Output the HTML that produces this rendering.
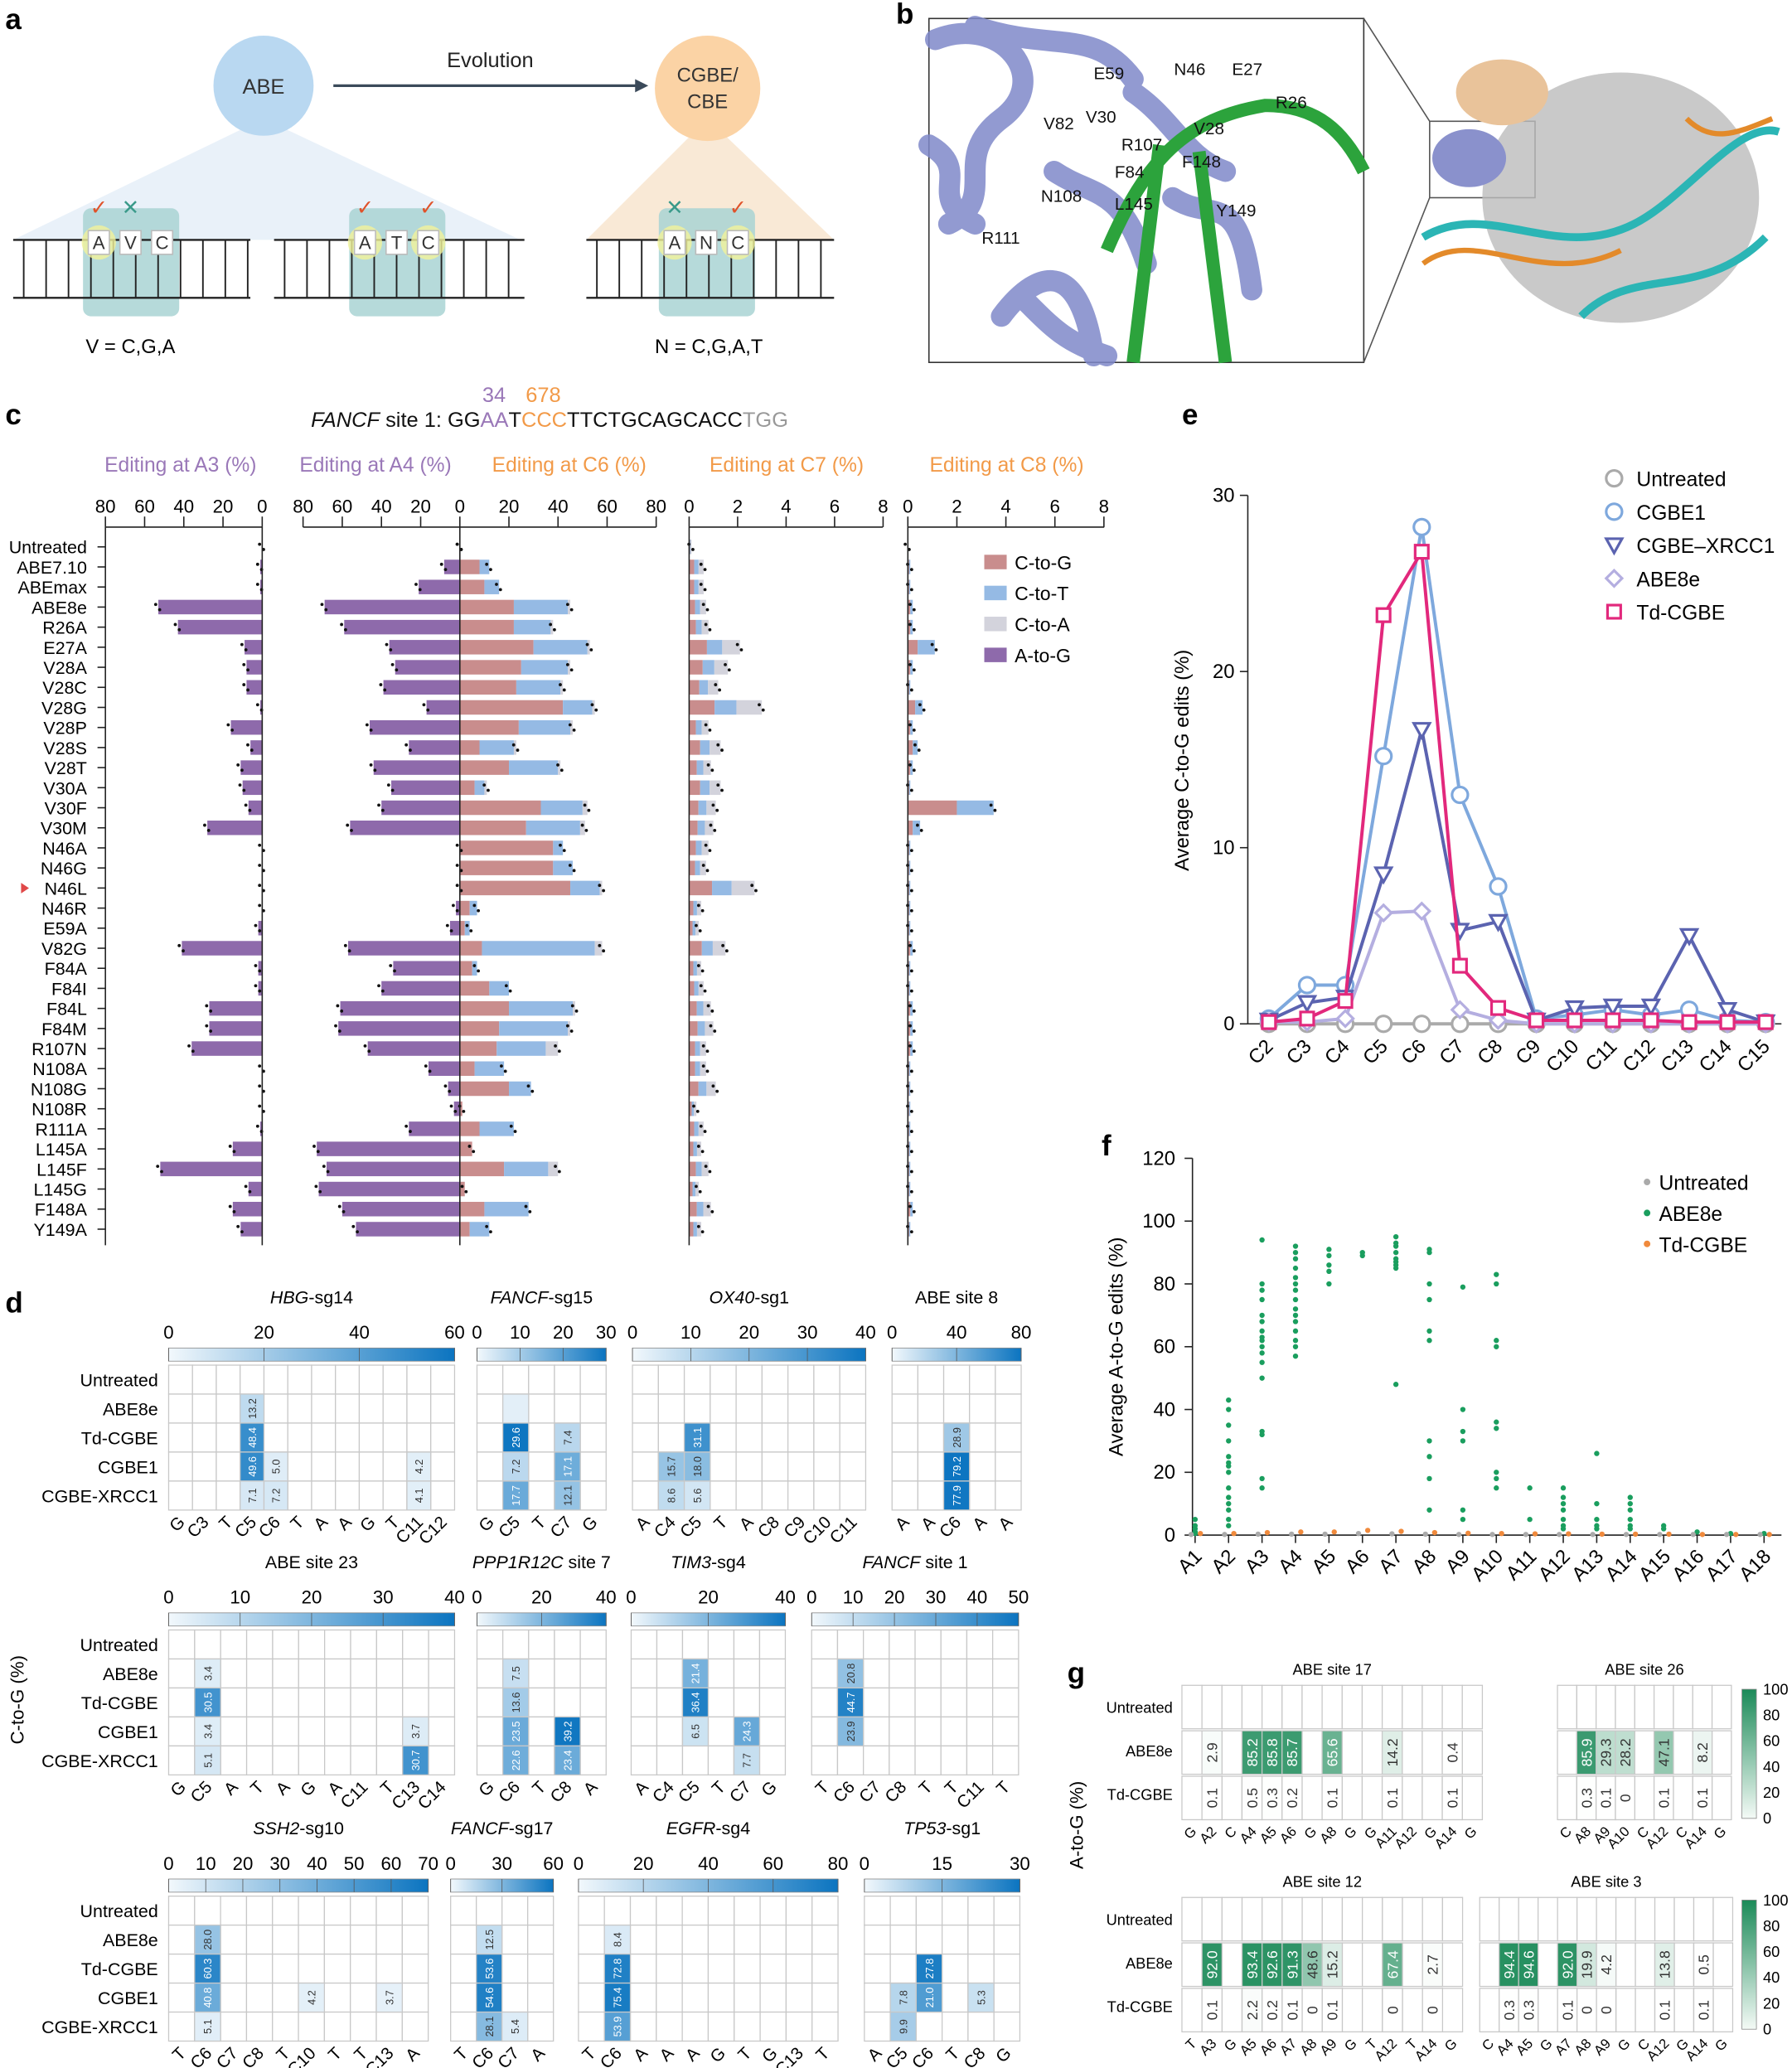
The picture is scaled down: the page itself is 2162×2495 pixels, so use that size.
<!DOCTYPE html>
<html><head><meta charset="utf-8"><style>
html,body{margin:0;padding:0;background:#fff}
svg{display:block;font-family:"Liberation Sans",Arial,sans-serif}
</style></head><body>
<svg id="fig" xmlns="http://www.w3.org/2000/svg" width="2162" height="2495" viewBox="0 0 1360 1569.4">
<rect x="0" y="0" width="1360" height="1569.4" fill="#fff"/>
<!-- Panel a -->
<g>
<text x="4" y="22" font-size="22" font-weight="bold">a</text>
<polygon points="200,90 10,182 395,182" fill="#e3eef8" opacity="0.8"/>
<polygon points="537,90 445,182 633,182" fill="#f8e4cc" opacity="0.8"/>
<circle cx="200" cy="65" r="38" fill="#b9d8f1"/>
<text x="200" y="71" font-size="16" text-anchor="middle" fill="#333">ABE</text>
<circle cx="537" cy="67" r="40" fill="#fbd3a5"/>
<text x="537" y="62" font-size="15" text-anchor="middle" fill="#333">CGBE/</text>
<text x="537" y="82" font-size="15" text-anchor="middle" fill="#333">CBE</text>
<line x1="253" y1="65" x2="484" y2="65" stroke="#3b4a5a" stroke-width="2"/>
<polygon points="492,65 482,60 482,70" fill="#3b4a5a"/>
<text x="372" y="51" font-size="16" text-anchor="middle" fill="#222">Evolution</text>
<g id="dna"></g>
<text x="99" y="268" font-size="15" text-anchor="middle">V = C,G,A</text>
<text x="538" y="268" font-size="15" text-anchor="middle">N = C,G,A,T</text>
</g>
<!-- Panel b -->
<g>
<text x="680" y="18" font-size="22" font-weight="bold">b</text>
<rect x="705" y="14" width="330" height="261" fill="#fff" stroke="#333" stroke-width="1"/>
<path d="M710,30 C760,10 800,60 760,90 C720,120 760,150 720,170 M740,20 C800,40 830,20 860,60 M760,240 C790,200 820,200 830,270 M780,230 C800,250 810,260 840,270 M705,110 C740,130 700,150 740,170 M800,130 C830,150 850,140 870,200 M890,150 C920,170 940,140 950,220 M860,70 C890,90 900,120 930,130" fill="none" stroke="#7f88c9" stroke-width="16" stroke-linecap="round" opacity="0.85"/>
<path d="M840,190 C870,120 900,90 960,80 C1000,80 1020,100 1035,130 M880,110 L860,275 M910,115 L930,275" fill="none" stroke="#2ca33c" stroke-width="10"/>
<g font-size="13" fill="#111">
<text x="830" y="60">E59</text><text x="891" y="57">N46</text><text x="935" y="57">E27</text><text x="968" y="82">R26</text>
<text x="792" y="98">V82</text><text x="824" y="93">V30</text><text x="851" y="114">R107</text><text x="906" y="102">V28</text>
<text x="846" y="135">F84</text><text x="897" y="127">F148</text><text x="790" y="153">N108</text><text x="846" y="159">L145</text>
<text x="923" y="164">Y149</text><text x="745" y="185">R111</text></g>
<rect x="1085" y="92" width="80" height="58" fill="none" stroke="#555" stroke-width="1"/>
<line x1="1035" y1="14" x2="1085" y2="92" stroke="#555"/>
<line x1="1035" y1="275" x2="1085" y2="150" stroke="#555"/>
<ellipse cx="1230" cy="150" rx="105" ry="95" fill="#bbb" opacity="0.8"/>
<ellipse cx="1140" cy="70" rx="35" ry="25" fill="#e9c39a"/>
<ellipse cx="1115" cy="120" rx="28" ry="22" fill="#8a91cc"/>
<path d="M1080,180 C1130,150 1180,200 1240,170 C1280,150 1320,90 1350,100 M1200,240 C1240,200 1290,230 1340,180" fill="none" stroke="#2bb5b5" stroke-width="6"/>
<path d="M1080,200 C1120,170 1170,220 1230,190 M1280,90 C1300,110 1320,100 1345,90" fill="none" stroke="#e38a2a" stroke-width="4"/>
</g>
<g id="root"></g>
</svg>
<script>
// ---------- Panel c data ----------
const cRows = ["Untreated","ABE7.10","ABEmax","ABE8e","R26A","E27A","V28A","V28C","V28G","V28P","V28S","V28T","V30A","V30F","V30M","N46A","N46G","N46L","N46R","E59A","V82G","F84A","F84I","F84L","F84M","R107N","N108A","N108G","N108R","R111A","L145A","L145F","L145G","F148A","Y149A"];
const a3Vals = [0,1,1,53,43,9,8,8,1,16,6,11,10,7,28,0,0,0,0,2,41,2,2,27,27,36,0,0,0,1,15,52,7,15,11];
const a4Vals = [0,8,21,69,59,36,33,39,17,46,26,44,35,40,56,0,0,0,2,5,57,34,40,61,62,47,16,6,3,26,73,68,72,60,53];
const c6G = [0,8,10,22,22,30,25,23,42,24,8,20,6,33,27,38,38,45,4,2,9,5,12,20,16,15,6,20,1,8,5,18,2,10,4];
const c6T = [0,4,6,22,15,22,19,18,12,21,14,20,4,17,22,4,8,12,3,2,46,2,8,26,28,20,12,9,0,14,0,18,0,18,8];
const c6A = [0,0,0,1,1,1,1,1,1,1,1,1,1,2,2,0,0,1,0,0,3,0,0,1,1,5,0,0,0,0,0,4,0,0,0];
const c7Tot = [0.1,0.6,0.6,0.7,0.8,2.1,1.6,1.2,3.0,0.8,1.3,0.9,1.3,1.1,1.0,0.8,0.7,2.7,0.5,0.4,1.5,0.5,0.6,0.9,1.0,0.7,0.7,1.1,0.3,0.6,0.5,0.8,0.4,0.9,0.5];
const c8G = [0,0.05,0.05,0.1,0.1,0.4,0.1,0.05,0.3,0.1,0.2,0.1,0.05,2.0,0.2,0.05,0.05,0.05,0.05,0.05,0.1,0.05,0.05,0.1,0.1,0.1,0.05,0.05,0.05,0.05,0.05,0.05,0.05,0.1,0.05];
const c8T = [0,0.05,0.05,0.1,0.1,0.7,0.1,0.05,0.3,0.1,0.2,0.1,0.05,1.5,0.3,0.05,0.05,0.05,0.05,0.05,0.1,0.05,0.05,0.1,0.1,0.1,0.05,0.05,0.05,0.05,0.05,0.05,0.05,0.1,0.05];
const cAxisTicksLeft = [80,60,40,20,0];
const cAxisTicksC6 = [20,40,60,80];
const cAxisTicksSmall = [0,2,4,6,8];
// ---------- Panel e data ----------
const ePositions = ["C2","C3","C4","C5","C6","C7","C8","C9","C10","C11","C12","C13","C14","C15"];
const eUntreated = [0,0,0,0,0,0,0,0,0,0,0,0,0,0];
const eCGBE1 = [0.3,2.2,2.2,15.2,28.2,13,7.8,0.3,0.5,0.8,0.5,0.8,0.2,0.1];
const eXRCC1 = [0.2,1.2,1.5,8.5,16.7,5.3,5.8,0.2,0.9,1,1,5,0.8,0.1];
const eABE8e = [0.1,0.1,0.3,6.3,6.4,0.8,0.2,0,0,0,0,0,0,0];
const eTd = [0.1,0.3,1.3,23.2,26.8,3.3,0.9,0.2,0.2,0.2,0.2,0.1,0.1,0.1];
const eTicks = [0,10,20,30];
// ---------- Panel f data ----------
const fPositions = ["A1","A2","A3","A4","A5","A6","A7","A8","A9","A10","A11","A12","A13","A14","A15","A16","A17","A18"];
const fABE8e = [[5,3,2,1,1,0.5],[43,40,35,30,25,23,22,20,15,12,10,8,5,3],[94,80,78,75,70,68,65,63,62,60,58,55,50,33,32,18,15],[92,90,88,85,82,80,78,75,72,70,68,65,62,60,57],[91,89,86,84,80],[90,89],[95,93,92,90,88,87,86,85,48],[91,90,80,75,65,62,30,25,18,8],[79,40,33,30,8,5],[83,80,62,60,36,34,20,18,15],[15,5],[15,12,10,8,5,3,2],[26,10,5,3,2],[12,10,8,5,3,2],[3,2],[1],[0.5],[0.5]];
const fTd = [0.5,0.5,0.8,1,1,1.5,1.2,0.8,0.6,0.5,0.4,0.4,0.3,0.3,0.3,0.2,0.2,0.2];
const fUntreated = [0.2,0.2,0.3,0.3,0.3,0.5,0.4,0.3,0.2,0.2,0.2,0.2,0.2,0.2,0.2,0.2,0.2,0.2];
const fTicks = [0,20,40,60,80,100,120];
// ---------- Panel d data ----------
const dRowLabels = ["Untreated","ABE8e","Td-CGBE","CGBE1","CGBE-XRCC1"];
const dMaps = [
 {g:"HBG",s:"-sg14",x0:128,x1:345,top:1036,max:60,ticks:[0,20,40,60],cols:["G","C3","T","C5","C6","T","A","A","G","T","C11","C12"],cells:[[1,3,13.2],[2,3,48.4],[3,3,49.6],[3,4,5.0],[3,10,4.2],[4,3,7.1],[4,4,7.2],[4,10,4.1]]},
 {g:"FANCF",s:"-sg15",x0:362,x1:460,top:1036,max:30,ticks:[0,10,20,30],cols:["G","C5","T","C7","G"],cells:[[1,1,2],[2,1,29.6],[2,3,7.4],[3,1,7.2],[3,3,17.1],[4,1,17.7],[4,3,12.1]]},
 {g:"OX40",s:"-sg1",x0:480,x1:657,top:1036,max:40,ticks:[0,10,20,30,40],cols:["A","C4","C5","T","A","C8","C9","C10","C11"],cells:[[2,2,31.1],[3,1,15.7],[3,2,18.0],[4,1,8.6],[4,2,5.6]]},
 {g:"",s:"ABE site 8",x0:677,x1:775,top:1036,max:80,ticks:[0,40,80],cols:["A","A","C6","A","A"],cells:[[2,2,28.9],[3,2,79.2],[4,2,77.9]]},
 {g:"",s:"ABE site 23",x0:128,x1:345,top:1237,max:40,ticks:[0,10,20,30,40],cols:["G","C5","A","T","A","G","A","C11","T","C13","C14"],cells:[[1,1,3.4],[2,1,30.5],[3,1,3.4],[3,9,3.7],[4,1,5.1],[4,9,30.7]]},
 {g:"PPP1R12C",s:" site 7",x0:362,x1:460,top:1237,max:40,ticks:[0,20,40],cols:["G","C6","T","C8","A"],cells:[[1,1,7.5],[2,1,13.6],[3,1,23.5],[3,3,39.2],[4,1,22.6],[4,3,23.4]]},
 {g:"TIM3",s:"-sg4",x0:479,x1:596,top:1237,max:40,ticks:[0,20,40],cols:["A","C4","C5","T","C7","G"],cells:[[1,2,21.4],[2,2,36.4],[3,2,6.5],[3,4,24.3],[4,4,7.7]]},
 {g:"FANCF",s:" site 1",x0:616,x1:773,top:1237,max:50,ticks:[0,10,20,30,40,50],cols:["T","C6","C7","C8","T","T","C11","T"],cells:[[1,1,20.8],[2,1,44.7],[3,1,23.9]]},
 {g:"SSH2",s:"-sg10",x0:128,x1:325,top:1439,max:70,ticks:[0,10,20,30,40,50,60,70],cols:["T","C6","C7","C8","T","C10","T","T","C13","A"],cells:[[1,1,28.0],[2,1,60.3],[3,1,40.8],[4,1,5.1],[3,5,4.2],[3,8,3.7]]},
 {g:"FANCF",s:"-sg17",x0:342,x1:420,top:1439,max:60,ticks:[0,30,60],cols:["T","C6","C7","A"],cells:[[1,1,12.5],[2,1,53.6],[3,1,54.6],[4,1,28.1],[4,2,5.4]]},
 {g:"EGFR",s:"-sg4",x0:439,x1:636,top:1439,max:80,ticks:[0,20,40,60,80],cols:["T","C6","A","A","A","G","T","G","C13","T"],cells:[[1,1,8.4],[2,1,72.8],[3,1,75.4],[4,1,53.9]]},
 {g:"TP53",s:"-sg1",x0:656,x1:774,top:1439,max:30,ticks:[0,15,30],cols:["A","C5","C6","T","C8","G"],cells:[[2,2,27.8],[3,1,7.8],[3,2,21.0],[3,4,5.3],[4,1,9.9]]}
];
// ---------- Panel g data ----------
const gRowLabels = ["Untreated","ABE8e","Td-CGBE"];
const gMaps = [
 {t:"ABE site 17",x0:897,x1:1125,top:1279,cols:["G","A2","C","A4","A5","A6","G","A8","G","G","A11","A12","G","A14","G"],abe:[null,2.9,null,85.2,85.8,85.7,null,65.6,null,null,14.2,null,null,0.4,null],td:[null,0.1,null,0.5,0.3,0.2,null,0.1,null,null,0.1,null,null,0.1,null]},
 {t:"ABE site 26",x0:1182,x1:1314,top:1279,cols:["C","A8","A9","A10","C","A12","C","A14","G"],abe:[null,85.9,29.3,28.2,null,47.1,null,8.2,null],td:[null,0.3,0.1,0,null,0.1,null,0.1,null]},
 {t:"ABE site 12",x0:897,x1:1110,top:1440,cols:["T","A3","G","A5","A6","A7","A8","A9","G","T","A12","T","A14","G"],abe:[null,92.0,null,93.4,92.6,91.3,48.6,15.2,null,null,67.4,null,2.7,null],td:[null,0.1,null,2.2,0.2,0.1,0,0.1,null,null,0,null,0,null]},
 {t:"ABE site 3",x0:1123,x1:1315,top:1440,cols:["C","A4","A5","G","A7","A8","A9","G","C","A12","G","A14","G"],abe:[null,94.4,94.6,null,92.0,19.9,4.2,null,null,13.8,null,0.5,null],td:[null,0.3,0.3,null,0.1,0,0,null,null,0.1,null,0.1,null]}
];
const gTicks = [0,20,40,60,80,100];

const NS = 'http://www.w3.org/2000/svg';
const root = document.getElementById('root');
function mk(tag, attrs, name, parent){
  const e = document.createElementNS(NS, tag);
  for (const k in attrs) e.setAttribute(k, attrs[k]);
  
  
  (parent || root).appendChild(e);
  return e;
}
function tx(x, y, s, attrs, name, parent){
  const e = mk('text', Object.assign({x:x, y:y}, attrs), name, parent);
  e.textContent = s;
  return e;
}
function lerpColor(c0, c1, t){
  t = Math.max(0, Math.min(1, t));
  const r = Math.round(c0[0]+(c1[0]-c0[0])*t), g = Math.round(c0[1]+(c1[1]-c0[1])*t), b = Math.round(c0[2]+(c1[2]-c0[2])*t);
  return 'rgb('+r+','+g+','+b+')';
}

// ---------- DNA diagrams (panel a) ----------
(function(){
  const dna = document.getElementById('dna');
  const defs = [{x0:10,x1:190,box:63,let:["A","V","C"],marks:["✓","✕",""]},{x0:208,x1:398,box:265,let:["A","T","C"],marks:["✓","","✓"]},{x0:445,x1:633,box:500,let:["A","N","C"],marks:["✕","","✓"]}];
  defs.forEach((d,i)=>{
    mk('rect',{x:d.box,y:158,width:73,height:82,rx:6,fill:'#a9d3d3',opacity:0.85},'editing-window',dna);
    mk('line',{x1:d.x0,y1:182,x2:d.x1,y2:182,stroke:'#222','stroke-width':1.5},'dna-strand-top',dna);
    mk('line',{x1:d.x0,y1:226,x2:d.x1,y2:226,stroke:'#222','stroke-width':1.5},'dna-strand-bottom',dna);
    for(let x=d.x0+8;x<d.x1;x+=17){ mk('line',{x1:x,y1:182,x2:x,y2:226,stroke:'#222','stroke-width':1.2},'dna-rung',dna); }
    d.let.forEach((L,j)=>{
      const cx = d.box+12+j*24;
      if(j===0 || (i===1 && j===2) || (i===2 && j===2)) mk('circle',{cx:cx,cy:184,r:13,fill:'#f3f29a',opacity:0.8},'glow',dna);
      mk('rect',{x:cx-8,y:175,width:16,height:18,fill:'#fff',stroke:'#bbb'},'base-box',dna);
      tx(cx,189,L,{'font-size':14,'text-anchor':'middle',fill:'#333'},'base-letter',dna);
      if(d.marks[j]) tx(cx,163,d.marks[j],{'font-size':16,'text-anchor':'middle',fill:d.marks[j]==='✓'?'#e0522a':'#3a9a8a'},'edit-mark',dna);
    });
  });
})();

// ---------- Panel c ----------
(function(){
  const g = mk('g',{},'panel-c');
  tx(4,322,'c',{'font-size':22,'font-weight':'bold'},'panel-letter-c',g);
  const seq = tx(236,324,'',{'font-size':16},'fancf-site1-sequence',g);
  [['FANCF','#111','italic'],[' site 1: GG','#111'],['AA','#9a78b8'],['T','#111'],['CCC','#f29a48'],['TTCTGCAGCACC','#111'],['TGG','#999']].forEach(p=>{
    const t = document.createElementNS(NS,'tspan'); t.textContent=p[0]; t.setAttribute('fill',p[1]); if(p[2]) t.setAttribute('font-style','italic'); seq.appendChild(t);
  });
  tx(366,305,'34',{'font-size':16,fill:'#9a78b8'},'position-34',g);
  tx(399,305,'678',{'font-size':16,fill:'#f29a48'},'position-678',g);
  const titles=[[137,'Editing at A3 (%)','#9a78b8'],[285,'Editing at A4 (%)','#9a78b8'],[432,'Editing at C6 (%)','#f29a48'],[597,'Editing at C7 (%)','#f29a48'],[764,'Editing at C8 (%)','#f29a48']];
  titles.forEach(t=>tx(t[0],358,t[1],{'font-size':15.5,'text-anchor':'middle',fill:t[2]},'axis-title',g));
  const rowY = i => 415 + i*15.23;
  const A3 = v => 199 - v*1.4875, A4 = v => 349 - v*1.4875, C6 = v => 349 + v*1.8625, C7 = v => 523 + v*18.4, C8 = v => 689 + v*18.6;
  const top=400;
  mk('line',{x1:80,y1:top,x2:199,y2:top,stroke:'#222'},'a3-axis',g);
  mk('line',{x1:230,y1:top,x2:498,y2:top,stroke:'#222'},'a4-c6-axis',g);
  mk('line',{x1:523,y1:top,x2:670,y2:top,stroke:'#222'},'c7-axis',g);
  mk('line',{x1:689,y1:top,x2:838,y2:top,stroke:'#222'},'c8-axis',g);
  cAxisTicksLeft.forEach(v=>{
    mk('line',{x1:A3(v),y1:top,x2:A3(v),y2:top-8,stroke:'#222'},'a3-tick',g);
    tx(A3(v),389,String(v),{'font-size':14,'text-anchor':'middle'},'a3-tick-label',g);
    mk('line',{x1:A4(v),y1:top,x2:A4(v),y2:top-8,stroke:'#222'},'a4-tick',g);
    tx(A4(v),389,String(v),{'font-size':14,'text-anchor':'middle'},'a4-tick-label',g);
  });
  cAxisTicksC6.forEach(v=>{
    mk('line',{x1:C6(v),y1:top,x2:C6(v),y2:top-8,stroke:'#222'},'c6-tick',g);
    tx(C6(v),389,String(v),{'font-size':14,'text-anchor':'middle'},'c6-tick-label',g);
  });
  cAxisTicksSmall.forEach(v=>{
    mk('line',{x1:C7(v),y1:top,x2:C7(v),y2:top-8,stroke:'#222'},'c7-tick',g);
    tx(C7(v),389,String(v),{'font-size':14,'text-anchor':'middle'},'c7-tick-label',g);
    mk('line',{x1:C8(v),y1:top,x2:C8(v),y2:top-8,stroke:'#222'},'c8-tick',g);
    tx(C8(v),389,String(v),{'font-size':14,'text-anchor':'middle'},'c8-tick-label',g);
  });
  mk('line',{x1:80,y1:top,x2:80,y2:945,stroke:'#222'},'a3-left-frame',g);
  const PUR='#8e6aab', RED='#c98d8d', BLU='#95bae4', GRY='#d3d3dc';
  cRows.forEach((name,i)=>{
    const y = rowY(i), h=11;
    tx(66,y+5,name,{'font-size':13.5,'text-anchor':'end'},'row-label',g);
    mk('line',{x1:74,y1:y,x2:80,y2:y,stroke:'#222'},'row-tick',g);
    mk('rect',{x:A3(a3Vals[i]),y:y-h/2,width:a3Vals[i]*1.4875,height:h,fill:PUR},'bar-a3',g);
    mk('rect',{x:A4(a4Vals[i]),y:y-h/2,width:a4Vals[i]*1.4875,height:h,fill:PUR},'bar-a4',g);
    mk('rect',{x:C6(0),y:y-h/2,width:c6G[i]*1.8625,height:h,fill:RED},'bar-c6-ctog',g);
    mk('rect',{x:C6(c6G[i]),y:y-h/2,width:c6T[i]*1.8625,height:h,fill:BLU},'bar-c6-ctot',g);
    mk('rect',{x:C6(c6G[i]+c6T[i]),y:y-h/2,width:c6A[i]*1.8625,height:h,fill:GRY},'bar-c6-ctoa',g);
    const t7=c7Tot[i];
    mk('rect',{x:C7(0),y:y-h/2,width:t7*0.35*18.4,height:h,fill:RED},'bar-c7-ctog',g);
    mk('rect',{x:C7(t7*0.35),y:y-h/2,width:t7*0.3*18.4,height:h,fill:BLU},'bar-c7-ctot',g);
    mk('rect',{x:C7(t7*0.65),y:y-h/2,width:t7*0.35*18.4,height:h,fill:GRY},'bar-c7-ctoa',g);
    mk('rect',{x:C8(0),y:y-h/2,width:c8G[i]*18.6,height:h,fill:RED},'bar-c8-ctog',g);
    mk('rect',{x:C8(c8G[i]),y:y-h/2,width:c8T[i]*18.6,height:h,fill:BLU},'bar-c8-ctot',g);
    [A3(a3Vals[i]),A4(a4Vals[i]),C6(c6G[i]+c6T[i]+c6A[i]),C7(t7),C8(c8G[i]+c8T[i])].forEach(px=>{
      mk('circle',{cx:px-2,cy:y-2,r:1.2,fill:'#111'},'replicate-dot',g);
      mk('circle',{cx:px+1,cy:y+2,r:1.2,fill:'#111'},'replicate-dot',g);
    });
  });
  [199,349,523,689].forEach(x=>mk('line',{x1:x,y1:top,x2:x,y2:945,stroke:'#222'},'zero-line',g));
  mk('polygon',{points:'16,670 22,674 16,678',fill:'#e04848'},'highlight-arrow-n46l',g);
  const leg=[['C-to-G',RED],['C-to-T',BLU],['C-to-A',GRY],['A-to-G',PUR]];
  leg.forEach((l,j)=>{
    mk('rect',{x:747,y:421+j*23.5,width:17,height:11,fill:l[1]},'legend-swatch',g);
    tx(770,432+j*23.5,l[0],{'font-size':14.5},'legend-entry',g);
  });
})();

// ---------- Panel e ----------
(function(){
  const g = mk('g',{},'panel-e');
  tx(897,322,'e',{'font-size':22,'font-weight':'bold'},'panel-letter-e',g);
  const X = i => 963 + i*29, Y = v => 777 - v*13.37;
  mk('line',{x1:947,y1:376,x2:947,y2:777,stroke:'#222'},'y-axis',g);
  mk('line',{x1:947,y1:777,x2:1352,y2:777,stroke:'#222'},'x-axis',g);
  eTicks.forEach(v=>{
    mk('line',{x1:941,y1:Y(v),x2:947,y2:Y(v),stroke:'#222'},'y-tick',g);
    tx(937,Y(v)+5,String(v),{'font-size':15,'text-anchor':'end'},'y-tick-label',g);
  });
  ePositions.forEach((p,i)=>{
    mk('line',{x1:X(i),y1:777,x2:X(i),y2:783,stroke:'#222'},'x-tick',g);
    tx(X(i)+4,795,p,{'font-size':15,'text-anchor':'end',transform:'rotate(-45 '+(X(i)+4)+' 795)'},'x-tick-label',g);
  });
  tx(902,577,'Average C-to-G edits (%)',{'font-size':15,'text-anchor':'middle',transform:'rotate(-90 902 577)'},'y-axis-title',g);
  const series=[['Untreated',eUntreated,'#aaaaaa','circle'],['CGBE1',eCGBE1,'#7ea8dd','circle'],['CGBE–XRCC1',eXRCC1,'#5b63b0','tri'],['ABE8e',eABE8e,'#b4aee0','diamond'],['Td-CGBE',eTd,'#e2287c','square']];
  function marker(shape,x,y,c,name,s){
    s=s||6;
    if(shape==='circle') return mk('circle',{cx:x,cy:y,r:s,fill:'#fff',stroke:c,'stroke-width':2},name,g);
    if(shape==='tri') return mk('polygon',{points:(x-s)+','+(y-s*0.8)+' '+(x+s)+','+(y-s*0.8)+' '+x+','+(y+s),fill:'#fff',stroke:c,'stroke-width':2},name,g);
    if(shape==='diamond') return mk('polygon',{points:x+','+(y-s)+' '+(x+s)+','+y+' '+x+','+(y+s)+' '+(x-s)+','+y,fill:'#fff',stroke:c,'stroke-width':2},name,g);
    return mk('rect',{x:x-s+1,y:y-s+1,width:2*s-2,height:2*s-2,fill:'#fff',stroke:c,'stroke-width':2},name,g);
  }
  series.forEach((s,k)=>{
    const pts = s[1].map((v,i)=>X(i)+','+Y(v)).join(' ');
    mk('polyline',{points:pts,fill:'none',stroke:s[2],'stroke-width':2.5},'line-'+s[0].toLowerCase(),g);
    s[1].forEach((v,i)=>marker(s[3],X(i),Y(v),s[2],'point-'+s[0].toLowerCase()));
    marker(s[3],1225,363+k*25.3,s[2],'legend-marker');
    tx(1242,369+k*25.3,s[0],{'font-size':15.5},'legend-entry',g);
  });
})();

// ---------- Panel f ----------
(function(){
  const g = mk('g',{},'panel-f');
  tx(836,877,'f',{'font-size':22,'font-weight':'bold'},'panel-letter-f',g);
  const X = i => 907 + i*25.4, Y = v => 1165 - v*2.383;
  mk('line',{x1:905,y1:879,x2:905,y2:1165,stroke:'#222'},'y-axis',g);
  mk('line',{x1:905,y1:1165,x2:1352,y2:1165,stroke:'#222'},'x-axis',g);
  fTicks.forEach(v=>{
    mk('line',{x1:899,y1:Y(v),x2:905,y2:Y(v),stroke:'#222'},'y-tick',g);
    tx(892,Y(v)+5,String(v),{'font-size':15,'text-anchor':'end'},'y-tick-label',g);
  });
  fPositions.forEach((p,i)=>{
    mk('line',{x1:X(i),y1:1165,x2:X(i),y2:1171,stroke:'#222'},'x-tick',g);
    tx(X(i)+6,1182,p,{'font-size':15,'text-anchor':'end',transform:'rotate(-45 '+(X(i)+6)+' 1182)'},'x-tick-label',g);
    fABE8e[i].forEach(v=>mk('circle',{cx:X(i),cy:Y(v),r:2,fill:'#1a9e5e'},'point-abe8e',g));
    mk('circle',{cx:X(i)-3,cy:Y(fUntreated[i]),r:2,fill:'#aaa'},'point-untreated',g);
    mk('circle',{cx:X(i)+4,cy:Y(fTd[i]),r:2,fill:'#f08a3c'},'point-td-cgbe',g);
  });
  tx(852,1022,'Average A-to-G edits (%)',{'font-size':15,'text-anchor':'middle',transform:'rotate(-90 852 1022)'},'y-axis-title',g);
  [['Untreated','#aaa'],['ABE8e','#1a9e5e'],['Td-CGBE','#f08a3c']].forEach((l,k)=>{
    mk('circle',{cx:1250,cy:897+k*23.5,r:2.5,fill:l[1]},'legend-marker',g);
    tx(1259,903+k*23.5,l[0],{'font-size':15.5},'legend-entry',g);
  });
})();

// ---------- Panel d ----------
(function(){
  const g = mk('g',{},'panel-d');
  tx(4,996,'d',{'font-size':22,'font-weight':'bold'},'panel-letter-d',g);
  tx(18,1290,'C-to-G (%)',{'font-size':14,'text-anchor':'middle',transform:'rotate(-90 18 1290)'},'y-axis-title',g);
  const defs=mk('defs',{},'gradients',g);
  const lg=mk('linearGradient',{id:'blueGrad',x1:0,y1:0,x2:1,y2:0},'blue-gradient',defs);
  mk('stop',{offset:'0','stop-color':'#f2f8fc'},'stop',lg);
  mk('stop',{offset:'1','stop-color':'#0b74c0'},'stop',lg);
  const seenTop={};
  dMaps.forEach(m=>{
    const rh=22, nC=m.cols.length, cw=(m.x1-m.x0)/nC, top=m.top;
    const title=tx((m.x0+m.x1)/2,top-47,'',{'font-size':13.5,'text-anchor':'middle'},'heatmap-title',g);
    if(m.g){const t=document.createElementNS(NS,'tspan');t.setAttribute('font-style','italic');t.textContent=m.g;title.appendChild(t);}
    const t2=document.createElementNS(NS,'tspan');t2.textContent=m.s;title.appendChild(t2);
    mk('rect',{x:m.x0,y:top-13,width:m.x1-m.x0,height:10,fill:'url(#blueGrad)',stroke:'#888','stroke-width':0.5},'colorbar',g);
    m.ticks.forEach(v=>{
      const x=m.x0+(m.x1-m.x0)*v/m.max;
      tx(x,top-20,String(v),{'font-size':14,'text-anchor':'middle'},'colorbar-tick-label',g);
      mk('line',{x1:x,y1:top-13,x2:x,y2:top-3,stroke:'#555','stroke-width':0.5},'colorbar-tick',g);
    });
    if(!seenTop[top]){seenTop[top]=1; dRowLabels.forEach((r,j)=>tx(120,top+rh*j+16,r,{'font-size':13.5,'text-anchor':'end'},'row-label',g));}
    for(let r=0;r<5;r++) for(let c=0;c<nC;c++) mk('rect',{x:m.x0+c*cw,y:top+r*rh,width:cw,height:rh,fill:'#fff',stroke:'#c8c8c8','stroke-width':0.8},'heatmap-cell-empty',g);
    m.cells.forEach(cl=>{
      const x=m.x0+cl[1]*cw, y=top+cl[0]*rh, t=cl[2]/m.max;
      mk('rect',{x:x,y:y,width:cw,height:rh,fill:lerpColor([242,248,252],[11,116,192],t),stroke:'#c8c8c8','stroke-width':0.8},'heatmap-cell',g);
      if(cl[2]>=3) tx(x+cw/2+3,y+rh/2,cl[2].toFixed(1),{'font-size':8,'text-anchor':'middle',fill:t>0.5?'#fff':'#333',transform:'rotate(-90 '+(x+cw/2+3)+' '+(y+rh/2)+')'},'cell-value',g);
    });
    m.cols.forEach((c,i)=>{
      const x=m.x0+cw*(i+0.5)+4, y=top+5*rh+10;
      tx(x,y,c,{'font-size':13,'text-anchor':'end',transform:'rotate(-45 '+x+' '+y+')'},'column-label',g);
    });
  });
})();

// ---------- Panel g ----------
(function(){
  const g = mk('g',{},'panel-g');
  tx(810,1277,'g',{'font-size':22,'font-weight':'bold'},'panel-letter-g',g);
  tx(822,1385,'A-to-G (%)',{'font-size':14,'text-anchor':'middle',transform:'rotate(-90 822 1385)'},'y-axis-title',g);
  const defs=mk('defs',{},'gradients',g);
  const lg=mk('linearGradient',{id:'greenGrad',x1:0,y1:1,x2:0,y2:0},'green-gradient',defs);
  mk('stop',{offset:'0','stop-color':'#f4faf6'},'stop',lg);
  mk('stop',{offset:'1','stop-color':'#1b8a58'},'stop',lg);
  const seen={};
  gMaps.forEach(m=>{
    const rh=33, nC=m.cols.length, cw=(m.x1-m.x0)/nC, top=m.top;
    tx((m.x0+m.x1)/2,top-8,m.t,{'font-size':11.5,'text-anchor':'middle'},'heatmap-title',g);
    if(!seen[top]){seen[top]=1; gRowLabels.forEach((r,j)=>tx(890,top+rh*j+21,r,{'font-size':11.5,'text-anchor':'end'},'row-label',g));}
    for(let r=0;r<3;r++) for(let c=0;c<nC;c++) mk('rect',{x:m.x0+c*cw,y:top+r*(rh+1.5),width:cw,height:rh,fill:'#fff',stroke:'#c8c8c8','stroke-width':0.8},'heatmap-cell-empty',g);
    [[1,m.abe],[2,m.td]].forEach(row=>{
      row[1].forEach((v,c)=>{
        if(v===null) return;
        const x=m.x0+c*cw, y=top+row[0]*(rh+1.5), t=v/100;
        mk('rect',{x:x,y:y,width:cw,height:rh,fill:lerpColor([255,255,255],[27,138,88],t),stroke:'#c8c8c8','stroke-width':0.8},'heatmap-cell',g);
        const lbl = v===0 ? '0' : v.toFixed(1);
        tx(x+cw/2+4,y+rh/2,lbl,{'font-size':11,'text-anchor':'middle',fill:t>0.5?'#fff':'#333',transform:'rotate(-90 '+(x+cw/2+4)+' '+(y+rh/2)+')'},'cell-value',g);
      });
    });
    m.cols.forEach((c,i)=>{
      const x=m.x0+cw*(i+0.5)+4, y=top+3*(rh+1.5)+8;
      tx(x,y,c,{'font-size':10.5,'text-anchor':'end',transform:'rotate(-45 '+x+' '+y+')'},'column-label',g);
    });
  });
  [1282,1442].forEach(y0=>{
    mk('rect',{x:1322,y:y0,width:11,height:98,fill:'url(#greenGrad)',stroke:'#888','stroke-width':0.5},'colorbar',g);
    gTicks.forEach(v=>{
      const y=y0+98-98*v/100;
      tx(1338,y+4,String(v),{'font-size':11.5},'colorbar-tick-label',g);
    });
  });
})();
</script>
</body></html>
